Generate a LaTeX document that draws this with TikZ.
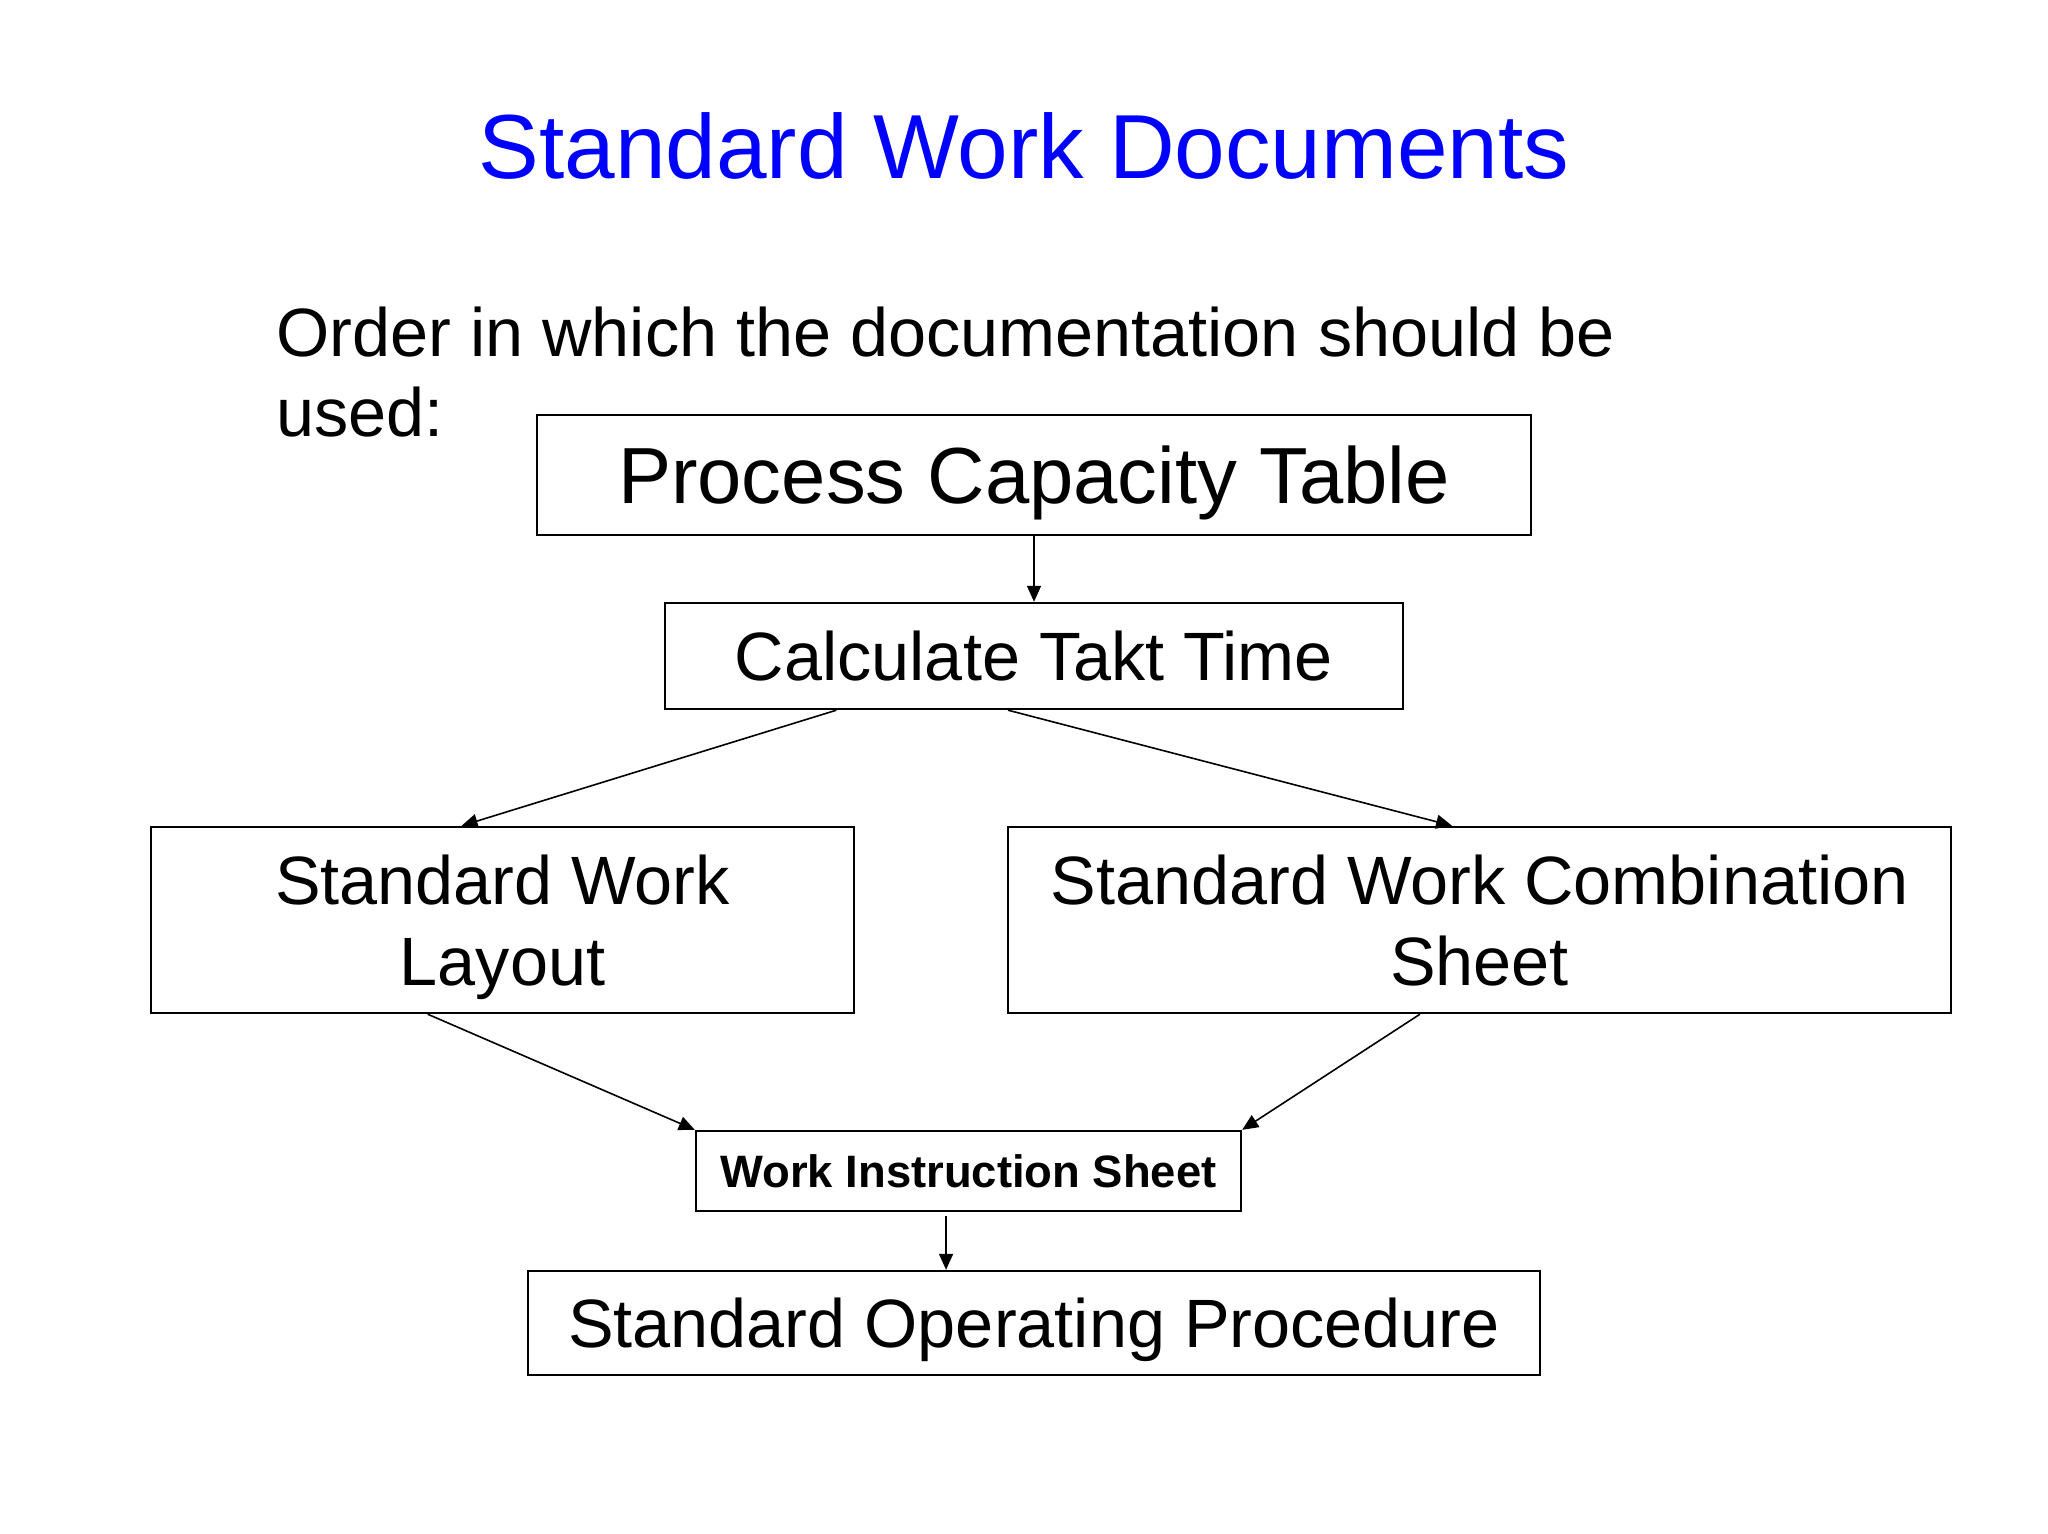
\documentclass[tikz,border=0pt]{standalone}
\usepackage{fontspec}
\setmainfont{Liberation Sans}
\usetikzlibrary{calc,arrows.meta}
\begin{document}
\begin{tikzpicture}[x=0.5pt,y=-0.5pt,
  box/.style={draw=black, line width=1.2pt, rectangle, inner sep=0pt, align=center, text depth=0pt},
  conn/.style={line width=0.8pt, -{Triangle[length=8pt,width=7pt]}},
  mid/.style={font=\fontsize{34.2}{40.5}\selectfont},
]
\fill[white] (0,0) rectangle (2048,1534);
\useasboundingbox (0,0) rectangle (2048,1534);
\node[anchor=base, text=blue, inner sep=0pt, font=\fontsize{45.5}{50}\selectfont] (title) at (1024,179) {Standard Work Documents};
\node[anchor=base west, inner sep=0pt, font=\fontsize{34.2}{40}\selectfont] (line1) at (276,357) {Order in which the documentation should be};
\node[anchor=base west, inner sep=0pt, font=\fontsize{34.2}{40}\selectfont] (line2) at (276,437) {used:};

\node[box, minimum width=497pt, minimum height=60pt, font=\fontsize{39.8}{44}\selectfont] (pct) at (1034,475) {Process Capacity Table};
\node[box, mid, minimum width=369pt, minimum height=53pt] (takt) at (1034,656) {Calculate Takt Time};
\node[box, mid, minimum width=351.5pt, minimum height=93pt] (swl) at (502.5,920) {Standard Work\\Layout};
\node[box, mid, minimum width=471.5pt, minimum height=93pt] (swc) at (1479.5,920) {Standard Work Combination\\Sheet};
\node[box, minimum width=272.5pt, minimum height=40pt, font=\fontsize{22.7}{26}\selectfont\bfseries] (wis) at (968.5,1171) {Work Instruction Sheet};
\node[box, mid, minimum width=506pt, minimum height=52pt] (sop) at (1034,1323) {Standard Operating Procedure};

\draw[conn] (pct.south) -- (takt.north);
\draw[conn] ($(takt.south west)!0.233!(takt.south east)$) -- ($(swl.north west)!0.442!(swl.north east)$);
\draw[conn] ($(takt.south west)!0.465!(takt.south east)$) -- ($(swc.north west)!0.471!(swc.north east)$);
\draw[conn] ($(swl.south west)!0.394!(swl.south east)$) -- (wis.north west);
\draw[conn] ($(swc.south west)!0.437!(swc.south east)$) -- (wis.north east);
\coordinate (wisout) at ($(wis.south west)!0.459!(wis.south east)+(0,4)$);
\draw[conn] (wisout) -- (wisout |- sop.north);
\end{tikzpicture}
\end{document}
